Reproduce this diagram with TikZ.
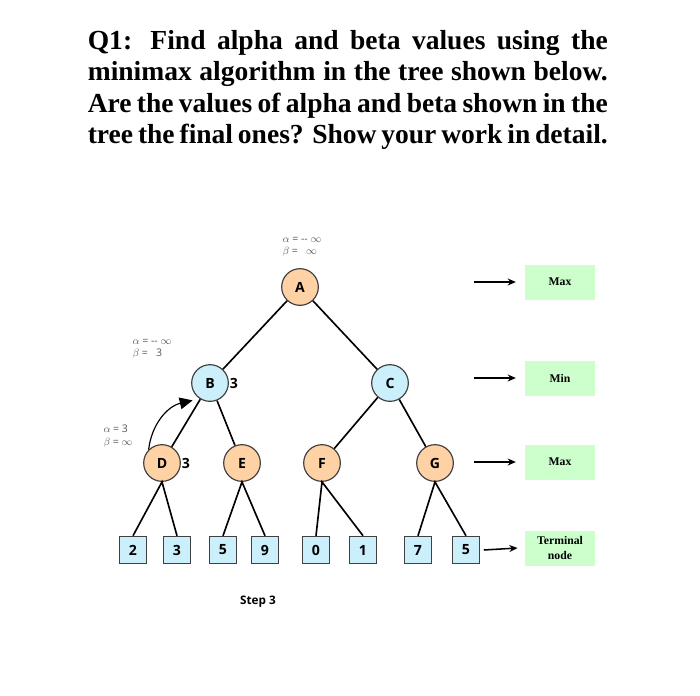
\documentclass[tikz,border=0pt]{standalone}
\usepackage{fontspec}
\setmainfont{Liberation Serif}
\newfontfamily\labelfont{Open Sans}
\usetikzlibrary{arrows.meta}
\begin{document}
\begin{tikzpicture}[x=0.03cm,y=-0.03cm,line width=1.4pt,
every node/.style={font=\labelfont},
maxnode/.style={circle,draw=black!75,line width=1pt,fill=orange!35,minimum size=1.1cm,inner sep=0pt,font=\labelfont\bfseries\large},
minnode/.style={maxnode,fill=cyan!20},
leaf/.style={rectangle,draw=black!75,line width=1pt,fill=cyan!20,minimum size=0.82cm,inner sep=0pt,font=\labelfont\bfseries\large},
tag/.style={rectangle,fill=green!20,minimum width=2.1cm,minimum height=1.05cm,align=center,font=\rmfamily\bfseries\normalsize},
ab/.style={font=\labelfont\small,text=black!65,align=left,inner sep=0pt},
link/.style={-{Stealth[length=7pt,width=6pt]},line width=1.3pt}]
\useasboundingbox (0,0) rectangle (700,695);
\node[anchor=north west,text width=15.6cm,align=justify,font=\rmfamily\bfseries\fontsize{23.5}{26.5}\selectfont,inner sep=0pt] (title) at (87,30)
{Q1: Find alpha and beta values using the minimax algorithm in the tree shown below. Are the values of alpha and beta shown in the tree the final ones? Show your work in detail.};
% tree
\node[maxnode] (A) at (300,287) {A};
\node[minnode] (B) at (210,383) {B};
\node[minnode] (C) at (390,383) {C};
\node[maxnode] (D) at (162,463) {D};
\node[maxnode] (E) at (242,463) {E};
\node[maxnode] (F) at (322,463) {F};
\node[maxnode] (G) at (435,463) {G};
\foreach \name/\x/\v in {l1/133/2,l2/177/3,l3/223/5,l4/265/9,l5/316/0,l6/363/1,l7/418/7,l8/466/5}
  \node[leaf] (\name) at (\x,550) {\v};
\draw (A) -- (B) (A) -- (C) (B) -- (D) (B) -- (E) (C) -- (F) (C) -- (G);
\draw (l1.north) -- (D.south) -- (l2.north) (l3.north) -- (E.south) -- (l4.north)
      (l5.north) -- (F.south) -- (l6.north) (l7.north) -- (G.south) -- (l8.north);
% values
\node[ab] (abA) at (302,247) {$\alpha$ = -- $\infty$\\$\beta$ = \ \ $\infty$};
\node[ab] (abB) at (152,349) {$\alpha$ = -- $\infty$\\$\beta$ = \ \ 3};
\node[ab] (abD) at (118,436) {$\alpha$ = 3\\$\beta$ = $\infty$};
\node[font=\labelfont\bfseries\large] (vB) at (234,383) {3};
\node[font=\labelfont\bfseries\large] (vD) at (186,463) {3};
\draw[-{Triangle[length=11pt,width=10pt]},line width=1pt] (D.north west) to[bend left=35] ([shift={(-4,4)}]B.south west);
% level tags
\node[tag] (tmax) at (560,282) {Max};
\node[tag] (tmin) at (560,378) {Min};
\node[tag] (tmax2) at (560,462) {Max};
\node[tag] (tterm) at (560,548) {Terminal\\node};
\foreach \t in {tmax,tmin,tmax2}
  \draw[link] ([xshift=-1.5cm]\t.west) -- ([xshift=-0.25cm]\t.west);
\draw[link] ([xshift=3pt]l8.east) -- ([xshift=-0.2cm]tterm.west);
\node[font=\labelfont\bfseries] (step) at (258,602) {Step 3};
\end{tikzpicture}
\end{document}
